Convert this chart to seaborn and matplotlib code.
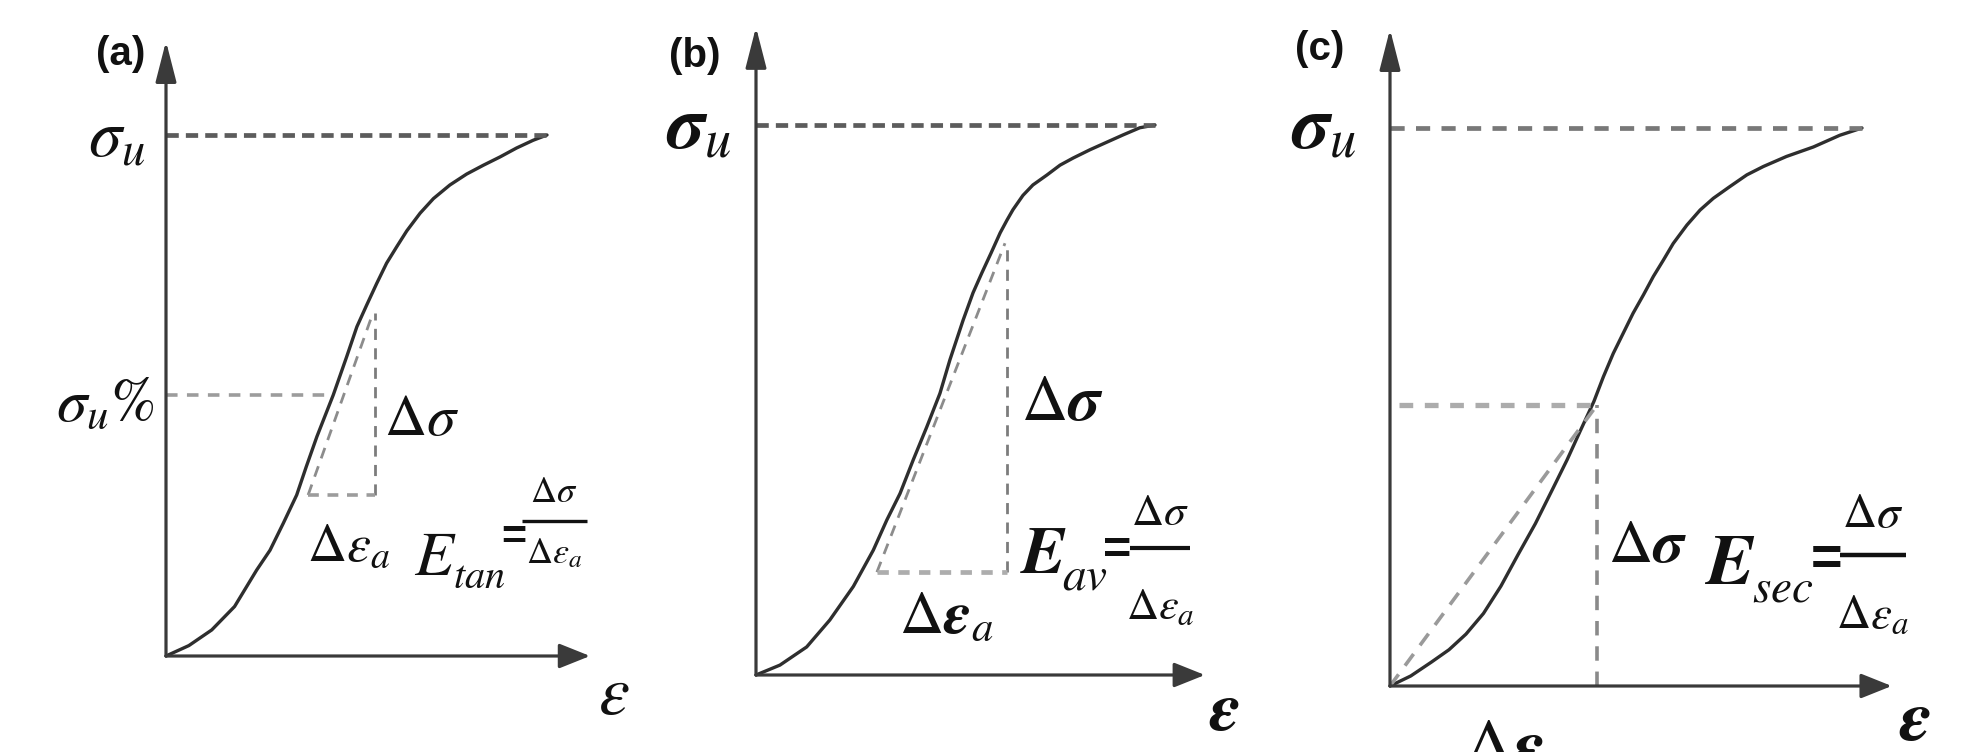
import matplotlib
matplotlib.use("Agg")
import matplotlib.pyplot as plt
import seaborn as sns
import pandas as pd

# ---------------- data (normalised: origin -> (0,0), ultimate point -> (1,1)) ----------------
strain_a = [0.0, 0.06, 0.12, 0.18, 0.238, 0.273, 0.308, 0.343, 0.368, 0.396, 0.439, 0.474,
            0.501, 0.527, 0.553, 0.579, 0.606, 0.632, 0.667, 0.702, 0.745, 0.789, 0.833,
            0.877, 0.920, 0.964, 1.0]
stress_a = [0.0, 0.02, 0.05, 0.095, 0.165, 0.203, 0.255, 0.309, 0.363, 0.421, 0.501, 0.574,
            0.632, 0.674, 0.715, 0.754, 0.786, 0.816, 0.850, 0.878, 0.904, 0.925, 0.942,
            0.958, 0.975, 0.990, 1.0]

strain_b = [0.0, 0.060, 0.127, 0.185, 0.244, 0.294, 0.328, 0.361, 0.394, 0.428, 0.461, 0.486,
            0.519, 0.544, 0.566, 0.589, 0.612, 0.629, 0.644, 0.669, 0.694, 0.729, 0.762,
            0.795, 0.837, 0.880, 0.920, 0.962, 1.0]
stress_b = [0.0, 0.018, 0.051, 0.100, 0.161, 0.227, 0.282, 0.330, 0.391, 0.451, 0.512, 0.573,
            0.645, 0.695, 0.731, 0.767, 0.804, 0.827, 0.846, 0.872, 0.891, 0.909, 0.927,
            0.940, 0.955, 0.969, 0.982, 0.995, 1.0]

strain_c = [0.0, 0.044, 0.088, 0.125, 0.161, 0.198, 0.235, 0.271, 0.308, 0.344, 0.375, 0.403,
            0.432, 0.452, 0.473, 0.494, 0.515, 0.537, 0.558, 0.579, 0.600, 0.629, 0.657,
            0.685, 0.720, 0.756, 0.791, 0.840, 0.897, 0.953, 1.0]
stress_c = [0.0, 0.018, 0.043, 0.065, 0.093, 0.130, 0.179, 0.235, 0.291, 0.352, 0.405, 0.457,
            0.510, 0.554, 0.596, 0.632, 0.668, 0.701, 0.734, 0.763, 0.793, 0.826, 0.853,
            0.874, 0.895, 0.916, 0.931, 0.949, 0.966, 0.987, 1.0]

# construction points
sigma_pct_a = 0.501          # sigma_u % level in (a)
sigma_pct_a_x = 0.439        # where it meets the curve
tan_lo_a = (0.373, 0.309)    # tangent line ends (a)
tan_hi_a = (0.543, 0.658)
tan_vx_a = 0.549             # vertical leg of triangle (a)

sec_lo_b = (0.303, 0.187)    # chord ends (b)
sec_hi_b = (0.624, 0.785)
sec_vx_b = 0.629

sec_pt_c = (0.439, 0.504)    # secant point (c)

axis_tips = {"a": (1.113, 1.180), "b": (1.125, 1.178), "c": (1.063, 1.177)}
panel_names = ["a", "b", "c"]

# ---------------- layout (pixels of the 1961 x 752 picture) ----------------
FIG_W, FIG_H = 1961, 752
SPAN = {"a": (0, 640), "b": (640, 1275), "c": (1275, 1961)}
ORIGIN = {"a": (166, 656), "b": (756, 675), "c": (1390, 686)}
ULT = {"a": (547, 135), "b": (1155, 125), "c": (1862, 128)}

sns.set_theme(style="white")
plt.rcParams["font.family"] = ["DejaVu Sans"]
plt.rcParams["mathtext.fontset"] = "stix"

fig = plt.figure(figsize=(FIG_W / 100, FIG_H / 100), dpi=100)
fig.patch.set_facecolor("white")

CURVE_C = "#2e2e2e"
AXIS_C = "#3a3a3a"


def make_ax(p):
    L, R = SPAN[p]
    ox, oy = ORIGIN[p]
    ex, ey = ULT[p]
    W, H = ex - ox, oy - ey
    ax = fig.add_axes([L / FIG_W, 0, (R - L) / FIG_W, 1])
    ax.set_xlim((L - ox) / W, (R - ox) / W)
    ax.set_ylim((oy - FIG_H) / H, oy / H)
    ax.axis("off")
    return ax


def dash(ax, xs, ys, color, lw, pattern):
    ax.plot(xs, ys, color=color, lw=lw, dashes=pattern, solid_capstyle="butt",
            dash_capstyle="butt")


def axes_arrows(ax, p):
    xt, yt = axis_tips[p]
    for tip, hl, hw in (((xt, 0), 0.95, 0.38), ((0, yt), 1.25, 0.32)):
        ax.annotate("", xy=tip, xytext=(0, 0),
                    arrowprops=dict(arrowstyle=f"-|>,head_length={hl},head_width={hw}",
                                    color=AXIS_C, lw=2.3, shrinkA=0, shrinkB=0,
                                    mutation_scale=20))


def txt(ax, x, y, s, size, ha="left", va="center", **kw):
    ax.text(x, y, s, fontsize=size, ha=ha, va=va, color="#111111", clip_on=False, **kw)


def label(ax, x, y, s, size):
    ax.text(x, y, s, fontsize=size, ha="center", va="center", color="#111111",
            family=["Liberation Sans", "DejaVu Sans"], fontweight="bold", clip_on=False)


def modulus(ax, xE, yE, sE, sizeE, xs, ys, ss, sizes):
    txt(ax, xE, yE, sE, sizeE, va="baseline")
    txt(ax, xs, ys, ss, sizes, va="baseline")


def fraction(ax, xc, ybar, x0, x1, dy_num, dy_den, size, lw):
    txt(ax, xc, ybar + dy_num, r"$\Delta\sigma$", size, ha="center")
    txt(ax, xc, ybar - dy_den, r"$\Delta\varepsilon_a$", size, ha="center")
    ax.plot([x0, x1], [ybar, ybar], color="#111111", lw=lw, solid_capstyle="butt")


curves = {"a": (strain_a, stress_a), "b": (strain_b, stress_b), "c": (strain_c, stress_c)}
axes = {}
for p in panel_names:
    ax = make_ax(p)
    axes[p] = ax
    axes_arrows(ax, p)
    df = pd.DataFrame({"strain": curves[p][0], "stress": curves[p][1]})
    sns.lineplot(data=df, x="strain", y="stress", ax=ax, color=CURVE_C, linewidth=2.4,
                 sort=False, estimator=None, legend=False)
    ax.axis("off")

# ---------------- panel (a): tangent modulus ----------------
ax = axes["a"]
dash(ax, [0, 1], [1, 1], "#5c5c5c", 3.4, (2.6, 1.5))
dash(ax, [0, sigma_pct_a_x], [sigma_pct_a, sigma_pct_a], "#9c9c9c", 2.6, (3.2, 2.6))
dash(ax, [tan_lo_a[0], tan_hi_a[0]], [tan_lo_a[1], tan_hi_a[1]], "#8c8c8c", 2.0, (4, 3))
dash(ax, [tan_vx_a, tan_vx_a], [tan_lo_a[1], tan_hi_a[1]], "#7c7c7c", 2.0, (4, 3))
dash(ax, [tan_lo_a[0], tan_vx_a], [tan_lo_a[1], tan_lo_a[1]], "#9c9c9c", 2.6, (3, 2.4))
label(ax, -0.118, 1.155, "(a)", 29)
txt(ax, -0.055, 0.996, r"$\sigma_u$", 48, ha="right")
txt(ax, -0.029, 0.482, r"$\sigma_u\%$", 44, ha="right")
txt(ax, 0.572, 0.511, r"$\Delta\sigma$", 42, va="top")
txt(ax, 0.370, 0.262, r"$\Delta\varepsilon_a$", 39, va="top")
modulus(ax, 0.650, 0.155, r"$E$", 46, 0.752, 0.131, r"$tan$", 29)
label(ax, 0.913, 0.226, "=", 31)
fraction(ax, 1.018, 0.259, 0.934, 1.105, 0.056, 0.062, 26, 2.4)
txt(ax, 1.176, -0.073, r"$\varepsilon$", 50, ha="center")

# ---------------- panel (b): average modulus ----------------
ax = axes["b"]
dash(ax, [0, 1], [1, 1], "#5c5c5c", 3.4, (2.6, 1.5))
dash(ax, [sec_lo_b[0], sec_hi_b[0]], [sec_lo_b[1], sec_hi_b[1]], "#8c8c8c", 2.0, (4, 3))
dash(ax, [sec_vx_b, sec_vx_b], [sec_lo_b[1], sec_hi_b[1]], "#7c7c7c", 2.0, (4, 3))
dash(ax, [sec_lo_b[0], sec_vx_b], [sec_lo_b[1], sec_lo_b[1]], "#adadad", 3.4, (2.4, 2.0))
label(ax, -0.153, 1.125, "(b)", 29)
txt(ax, -0.06, 0.995, r"$\mathbfit{\sigma}_u$", 54, ha="right")
txt(ax, 0.665, 0.552, r"$\Delta\mathbfit{\sigma}$", 46, va="top")
txt(ax, 0.358, 0.160, r"$\Delta\mathbfit{\varepsilon}_a$", 44, va="top")
modulus(ax, 0.662, 0.185, r"$\mathbfit{E}$", 48, 0.768, 0.155, r"$av$", 34)
label(ax, 0.905, 0.225, "=", 35)
fraction(ax, 1.013, 0.231, 0.937, 1.088, 0.065, 0.107, 32, 3.0)
txt(ax, 1.175, -0.064, r"$\mathbfit{\varepsilon}$", 50, ha="center")

# ---------------- panel (c): secant modulus ----------------
ax = axes["c"]
dash(ax, [0, 1], [1, 1], "#787878", 3.4, (3.0, 2.4))
dash(ax, [0.02, sec_pt_c[0]], [sec_pt_c[1], sec_pt_c[1]], "#acacac", 3.8, (2.6, 2.2))
dash(ax, [sec_pt_c[0], sec_pt_c[0]], [0, sec_pt_c[1]], "#8a8a8a", 2.6, (4, 3))
dash(ax, [0, sec_pt_c[0]], [0, sec_pt_c[1]], "#9a9a9a", 2.6, (4, 3))
label(ax, -0.150, 1.142, "(c)", 29)
txt(ax, -0.07, 1.0, r"$\mathbfit{\sigma}_u$", 54, ha="right")
txt(ax, 0.462, 0.305, r"$\Delta\mathbfit{\sigma}$", 44, va="top")
txt(ax, 0.155, -0.050, r"$\Delta\mathbfit{\varepsilon}_a$", 50, va="top")
modulus(ax, 0.668, 0.182, r"$\mathbfit{E}$", 52, 0.768, 0.152, r"$sec$", 34)
label(ax, 0.924, 0.226, "=", 39)
fraction(ax, 1.023, 0.235, 0.953, 1.093, 0.072, 0.108, 34, 3.2)
txt(ax, 1.112, -0.062, r"$\mathbfit{\varepsilon}$", 52, ha="center")

fig.savefig("out.png", dpi=100, facecolor="white")
